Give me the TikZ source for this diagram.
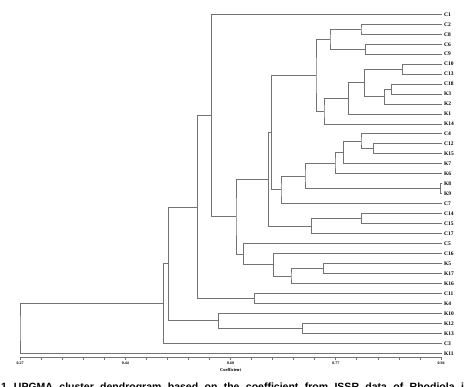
\documentclass[tikz,border=0pt]{standalone}
\usepackage{fontspec}
\setmainfont{Liberation Serif}
\newfontfamily\capfont{Liberation Sans}
\usetikzlibrary{calc}
\definecolor{linegray}{RGB}{115,115,115}
\tikzset{
  br/.style={draw=linegray, line width=0.9pt},
  lab/.style={anchor=west, inner sep=0pt, font=\fontsize{5.5}{6}\selectfont\bfseries},
  ticklab/.style={anchor=north, inner sep=0pt, font=\fontsize{4}{5}\selectfont\bfseries},
}
\newcommand\jn[4]{%
  \coordinate (#1m) at ($(#3)!0.5!(#4)$);
  \coordinate (#1) at (#1m -| #2,0);
  \draw[br] (#3) -| (#1) |- (#4);
}
\begin{document}
\begin{tikzpicture}[x=1pt,y=-1pt]
\useasboundingbox (0,0) rectangle (474,386);
\clip (0,0) rectangle (474,386);
\fill[white] (0,0) rectangle (474,386);
% leaves
\foreach \n [count=\i from 0] in {C1,C2,C8,C6,C9,C10,C13,C18,K3,K2,K1,K14,C4,C12,K15,K7,K6,K8,K9,C7,C14,C15,C17,C5,C16,K5,K17,K16,C11,K4,K10,K12,K13,C3,K11}{
  \coordinate (l\n) at (442,14.3+9.97*\i);
  \node[lab] (t\n) at (444,14.3+9.97*\i) {\n};
}
% joins
\jn{a1}{361}{lC2}{lC8}
\jn{a2}{365.7}{lC6}{lC9}
\jn{a3}{330}{a1}{a2}
\jn{a4}{402.7}{lC10}{lC13}
\jn{a5}{391.7}{lC18}{lK3}
\jn{a6}{384.3}{a5}{lK2}
\jn{a7}{364.3}{a4}{a6}
\jn{a8}{348.3}{a7}{lK1}
\jn{a9}{324}{a8}{lK14}
\jn{a10}{316}{a3}{a9}
\jn{b1}{373.3}{lC12}{lK15}
\jn{b2}{361}{lC4}{b1}
\jn{b3}{343.3}{b2}{lK7}
\jn{b4}{335}{b3}{lK6}
\jn{b5}{440.5}{lK8}{lK9}
\jn{b6}{305}{b4}{b5}
\jn{b7}{281}{b6}{lC7}
\jn{yy}{271.7}{a10}{b7}
\jn{c1}{361.7}{lC14}{lC15}
\jn{c2}{311.7}{c1}{lC17}
\jn{pp}{268.3}{yy}{c2}
\jn{d1}{323.3}{lK5}{lK17}
\jn{d2}{291}{d1}{lK16}
\jn{d3}{273.3}{lC16}{d2}
\jn{d4}{243.3}{lC5}{d3}
\jn{bb}{236}{pp}{d4}
\jn{aa}{211.7}{lC1}{bb}
\jn{e1}{254.3}{lC11}{lK4}
\jn{dd}{197.3}{aa}{e1}
\jn{f1}{302.7}{lK12}{lK13}
\jn{ee}{218.7}{lK10}{f1}
\jn{ff}{168.3}{dd}{ee}
\jn{gg}{163.3}{ff}{lC3}
\jn{root}{20}{gg}{lK11}
% axis
\coordinate (ax0) at (20,357.3);
\coordinate (ax1) at (441,357.3);
\draw[br, line width=0.7pt] (ax0) -- (ax1);
\foreach \i in {0,...,20}{
  \draw[br, line width=0.6pt] ($(ax0)!\i/20!(ax1)$) -- ++(0,2.2);
}
\foreach \v [count=\k from 0] in {0.27,0.44,0.60,0.77,0.94}{
  \node[ticklab] (tk\k) at ($(ax0)!\k/4!(ax1)+(0,4.5)$) {\v};
}
\node[ticklab, font=\fontsize{4.5}{5}\selectfont\bfseries] (coef) at (230.5,368) {Coefficient};
% caption (cut off by the picture edge)
\node[anchor=base west, inner sep=0pt, font=\capfont\fontsize{10.5}{12}\selectfont\bfseries] (cap) at (1,390.2)
  {1.\hspace*{4pt}\makebox[450pt][s]{UPGMA cluster dendrogram based on the coefficient from ISSR data of Rhodiola i}};
\end{tikzpicture}
\end{document}
